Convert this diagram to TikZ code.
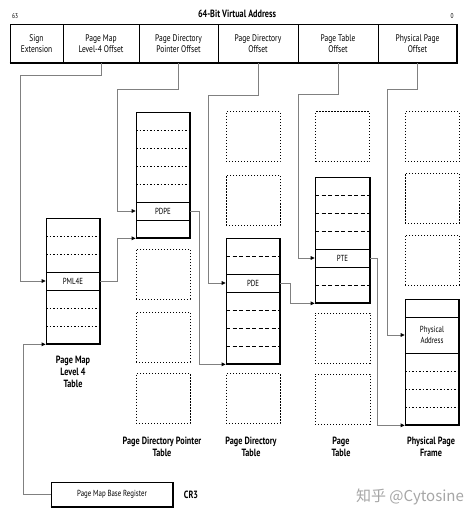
\documentclass[tikz,border=0pt]{standalone}
\usepackage{fontspec}
\setmainfont{PT Sans}[FakeStretch=0.78]
\newfontfamily\cjkfont{Noto Sans CJK SC}
\usetikzlibrary{arrows.meta}
\tikzset{
  cell/.style={draw, line width=0.7pt, inner sep=0pt, align=center, minimum height=39pt, font=\fontsize{9.6}{11}\selectfont},
  tbl/.style={draw, line width=0.7pt, minimum width=54pt, minimum height=126pt, inner sep=0pt},
  entry/.style={draw, line width=0.7pt, minimum width=54pt, minimum height=18pt, inner sep=0pt, align=center, font=\fontsize{8.8}{10}\selectfont},
  ghost/.style={draw, line width=1pt, dash pattern=on 1.1pt off 1.9pt, minimum width=54pt, minimum height=50pt, inner sep=0pt},
  heavy/.style={line width=1.8pt},
  dotl/.style={line width=0.8pt, dash pattern=on 1.5pt off 2pt},
  dashl/.style={line width=0.8pt, dash pattern=on 4pt off 2.5pt},
  conn/.style={draw=black!50, line width=0.8pt},
  arr/.style={conn, -{Triangle[length=4pt,width=3.6pt,color=black]}},
  lbl/.style={align=center, font=\bfseries\fontsize{10.5}{11.5}\selectfont},
}
\begin{document}
\begin{tikzpicture}[x=1pt,y=-1pt]
\useasboundingbox (0,0) rectangle (474,518);
\fill[white] (0,0) rectangle (474,518);

% title
\node[font=\bfseries\fontsize{10.5}{12}\selectfont] (title) at (237,14) {64-Bit Virtual Address};
\node[font=\fontsize{7}{8}\selectfont] (b63) at (15,16) {63};
\node[font=\fontsize{7}{8}\selectfont] (b0) at (452,16) {0};

% virtual address bar
\node[cell, minimum width=53pt] (c1) at (36.5,43.5) {Sign\\Extension};
\node[cell, minimum width=76pt] (c2) at (101,43.5) {Page Map\\Level-4 Offset};
\node[cell, minimum width=79pt] (c3) at (178.5,43.5) {Page Directory\\Pointer Offset};
\node[cell, minimum width=80pt] (c4) at (258,43.5) {Page Directory\\Offset};
\node[cell, minimum width=80pt] (c5) at (338,43.5) {Page Table\\Offset};
\node[cell, minimum width=79pt] (c6) at (417.5,43.5) {Physical Page\\Offset};
\draw[heavy] (c1.south west) -- (c6.south east) -- (c6.north east);

% PML4 table
\node[tbl] (pml4t) at (73,281) {};
\foreach \y in {236,254,308,326} \draw[dotl] (46,\y) -- (100,\y);
\node[entry] (pml4e) at (73,281) {PML4E};
\draw[heavy] (pml4t.south west) -- (pml4t.south east) -- (pml4t.north east);

% PDP table
\node[tbl] (pdpt) at (163,175) {};
\foreach \y in {130,148,166,184} \draw[dotl] (136,\y) -- (190,\y);
\node[entry] (pdpe) at (163,211) {PDPE};
\draw[heavy] (pdpt.south west) -- (pdpt.south east) -- (pdpt.north east);
\node[ghost] (g1) at (163,274) {};
\node[ghost] (g2) at (163,337) {};
\node[ghost] (g3) at (163,398.5) {};

% PD table
\node[ghost] (g4) at (253,137) {};
\node[ghost] (g5) at (253,200.5) {};
\node[tbl] (pdt) at (253,301) {};
\foreach \y in {256,310,328,346} \draw[dashl] (226,\y) -- (280,\y);
\node[entry] (pde) at (253,283) {PDE};
\draw[heavy] (pdt.south west) -- (pdt.south east) -- (pdt.north east);
\node[ghost] (g6) at (253,398.5) {};

% PT table
\node[ghost] (g7) at (342.5,137) {};
\node[tbl, minimum width=55pt] (ptt) at (342.5,240) {};
\foreach \y in {195,213,231,285} \draw[dashl] (315,\y) -- (370,\y);
\node[entry, minimum width=55pt] (pte) at (342.5,258) {PTE};
\draw[heavy] (ptt.south west) -- (ptt.south east) -- (ptt.north east);
\node[ghost, minimum width=55pt] (g8) at (342.5,338) {};
\node[ghost, minimum width=55pt] (g9) at (342.5,399) {};

% Physical page frame
\node[ghost] (g10) at (432,137) {};
\node[ghost] (g11) at (432,198.5) {};
\node[ghost] (g12) at (432,260) {};
\node[tbl] (ppf) at (432,362) {};
\foreach \y in {371,389,407} \draw[dotl] (405,\y) -- (459,\y);
\node[entry, minimum height=36pt, font=\fontsize{8.8}{11}\selectfont] (pa) at (432,335) {Physical\\Address};
\draw[heavy] (ppf.south west) -- (ppf.south east) -- (ppf.north east);

% labels
\node[lbl, font=\bfseries\fontsize{10.5}{12}\selectfont] (l1) at (73,372) {Page Map\\Level 4\\Table};
\node[lbl] (l2) at (162,447) {Page Directory Pointer\\Table};
\node[lbl] (l3) at (251,447) {Page Directory\\Table};
\node[lbl] (l4) at (341,447) {Page\\Table};
\node[lbl] (l5) at (431,447) {Physical Page\\Frame};

% CR3
\node[draw, line width=0.7pt, minimum width=122pt, minimum height=25pt, inner sep=0pt, font=\fontsize{8.8}{10}\selectfont] (cr3) at (112,494.5) {Page Map Base Register};
\draw[heavy] (cr3.south west) -- (cr3.south east) -- (cr3.north east);
\node[lbl] (cr3l) at (191,495) {CR3};

% watermark
\node[text=black!35, font=\cjkfont\fontsize{15}{17}\selectfont] (wm) at (410,497) {知乎 @Cytosine};

% connectors
\coordinate (k0) at (23,494.5);
\coordinate (k1) at (20,75);
\coordinate (k2) at (117,89);
\coordinate (k3) at (208,95);
\coordinate (k4) at (298,94);
\coordinate (k5) at (387,89);
\draw[arr] (c2.south) |- (k1) |- (pml4e.west);
\draw[arr] (c3.south) |- (k2) |- (pdpe.west);
\draw[arr] (c4.south) |- (k3) |- (pde.west);
\draw[arr] (c5.south) |- (k4) |- (pte.west);
\draw[arr] (c6.south) |- (k5) |- (pa.west);
\draw[arr] (cr3.west) -- (k0) |- (pml4t.south west);
\draw[arr] (pml4e.east) -- ++(17,0) |- (pdpt.south west);
\draw[arr] (pdpe.east) -- ++(9,0) |- (pdt.south west);
\draw[arr] (pde.east) -- ++(10,0) |- (ptt.south west);
\draw[arr] (pte.east) -- ++(7,0) |- (ppf.south west);
\end{tikzpicture}
\end{document}
